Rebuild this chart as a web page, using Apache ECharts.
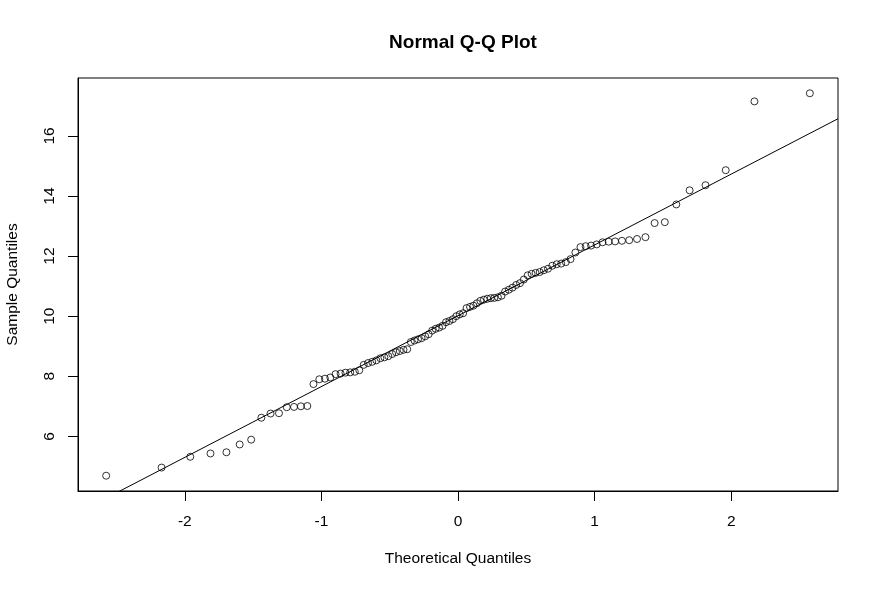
<!DOCTYPE html>
<html>
<head>
<meta charset="utf-8">
<script src="https://cdn.jsdelivr.net/npm/echarts@6/dist/echarts.min.js"></script>
<style>
html,body{margin:0;padding:0;background:#fff;}
#chart{width:878px;height:589px;}
</style>
</head>
<body>
<div id="chart"></div>
<script>
var titleText = "Normal Q-Q Plot";
var xName = "Theoretical Quantiles";
var yName = "Sample Quantiles";
var xTicks = [-2, -1, 0, 1, 2];
var yTicks = [6, 8, 10, 12, 14, 16];

var theoretical = [
-2.5758,-2.1701,-1.9600,-1.8119,-1.6954,-1.5982,-1.5141,-1.4395,-1.3722,-1.3106,
-1.2536,-1.2004,-1.1503,-1.1031,-1.0581,-1.0152,-0.9741,-0.9346,-0.8965,-0.8596,
-0.8239,-0.7892,-0.7554,-0.7225,-0.6903,-0.6588,-0.6280,-0.5978,-0.5681,-0.5388,
-0.5101,-0.4817,-0.4538,-0.4261,-0.3989,-0.3719,-0.3451,-0.3186,-0.2924,-0.2663,
-0.2404,-0.2147,-0.1891,-0.1637,-0.1383,-0.1130,-0.0878,-0.0627,-0.0376,-0.0125,
0.0125,0.0376,0.0627,0.0878,0.1130,0.1383,0.1637,0.1891,0.2147,0.2404,
0.2663,0.2924,0.3186,0.3451,0.3719,0.3989,0.4261,0.4538,0.4817,0.5101,
0.5388,0.5681,0.5978,0.6280,0.6588,0.6903,0.7225,0.7554,0.7892,0.8239,
0.8596,0.8965,0.9346,0.9741,1.0152,1.0581,1.1031,1.1503,1.2004,1.2536,
1.3106,1.3722,1.4395,1.5141,1.5982,1.6954,1.8119,1.9600,2.1701,2.5758
];

var sample = [
4.69,4.96,5.32,5.43,5.47,5.73,5.89,6.62,6.76,6.77,
6.97,6.98,7.00,7.01,7.74,7.90,7.92,7.96,8.07,8.09,
8.12,8.13,8.15,8.20,8.38,8.44,8.48,8.53,8.60,8.63,
8.67,8.74,8.80,8.84,8.88,8.90,9.14,9.19,9.23,9.27,
9.33,9.40,9.52,9.58,9.62,9.68,9.80,9.84,9.90,10.00,
10.06,10.10,10.27,10.31,10.35,10.43,10.51,10.55,10.58,10.60,
10.61,10.63,10.68,10.82,10.88,10.95,11.04,11.10,11.22,11.36,
11.41,11.44,11.47,11.53,11.58,11.68,11.73,11.75,11.80,11.90,
12.12,12.30,12.33,12.35,12.39,12.46,12.48,12.49,12.51,12.53,
12.57,12.63,13.10,13.13,13.72,14.19,14.36,14.86,17.15,17.42
];

// axis extents like R (range extended by 4%)
function ext(arr){
  var mn = Math.min.apply(null, arr), mx = Math.max.apply(null, arr);
  var d = (mx - mn) * 0.04;
  return [mn - d, mx + d];
}
var xr = ext(theoretical), yr = ext(sample);

// qqline: through the first and third quartiles (type 7)
function quant(arr, p){
  var s = arr.slice().sort(function(a,b){return a-b;});
  var h = (s.length - 1) * p;
  var lo = Math.floor(h);
  return s[lo] + (h - lo) * ((s[lo+1] !== undefined ? s[lo+1] : s[lo]) - s[lo]);
}
var qz = 0.6744897501960817;
var y25 = quant(sample, 0.25), y75 = quant(sample, 0.75);
var slope = (y75 - y25) / (2 * qz);
var intercept = y25 + slope * qz;
var lineData = [[xr[0], intercept + slope * xr[0]], [xr[1], intercept + slope * xr[1]]];

var points = theoretical.map(function(x, i){ return [x, sample[i]]; });

var FONT = "'Liberation Sans', Arial, sans-serif";
var chart = echarts.init(document.getElementById('chart'), null, {renderer: 'canvas'});
chart.setOption({
  animation: false,
  backgroundColor: '#ffffff',
  title: {
    text: titleText,
    left: 458,
    textAlign: 'center',
    top: 28,
    textStyle: {fontFamily: FONT, fontSize: 19, fontWeight: 'bold', color: '#000'}
  },
  grid: {
    left: 78, right: 40, top: 78, bottom: 98,
    containLabel: false,
    outerBoundsMode: 'none',
    show: true, borderColor: '#000', borderWidth: 1, backgroundColor: 'transparent'
  },
  xAxis: {
    type: 'value',
    position: 'bottom',
    min: xr[0], max: xr[1],
    name: xName,
    nameLocation: 'middle',
    nameGap: 60,
    nameTextStyle: {fontFamily: FONT, fontSize: 15.5, color: '#000'},
    axisLine: {show: true, onZero: false, lineStyle: {color: '#000', width: 1}},
    axisTick: {show: true, length: 10, inside: false, customValues: xTicks, lineStyle: {color: '#000', width: 1}},
    axisLabel: {show: true, margin: 23, customValues: xTicks, fontFamily: FONT, fontSize: 15.5, color: '#000'},
    splitLine: {show: false}
  },
  yAxis: {
    type: 'value',
    position: 'left',
    min: yr[0], max: yr[1],
    name: yName,
    nameLocation: 'middle',
    nameGap: 57,
    nameTextStyle: {fontFamily: FONT, fontSize: 15.5, color: '#000'},
    axisLine: {show: true, onZero: false, lineStyle: {color: '#000', width: 1}},
    axisTick: {show: true, length: 10, inside: false, customValues: yTicks, lineStyle: {color: '#000', width: 1}},
    axisLabel: {show: true, margin: 20, rotate: 90, customValues: yTicks, fontFamily: FONT, fontSize: 15.5, color: '#000'},
    splitLine: {show: false}
  },
  series: [
    {
      type: 'line',
      data: lineData,
      showSymbol: false,
      symbol: 'none',
      silent: true,
      clip: true,
      lineStyle: {color: '#000', width: 1},
      z: 2
    },
    {
      type: 'scatter',
      data: points,
      symbol: 'circle',
      symbolSize: 7,
      itemStyle: {color: 'rgba(0,0,0,0)', borderColor: '#000', borderWidth: 1},
      z: 3
    }
  ]
});
</script>
</body>
</html>
